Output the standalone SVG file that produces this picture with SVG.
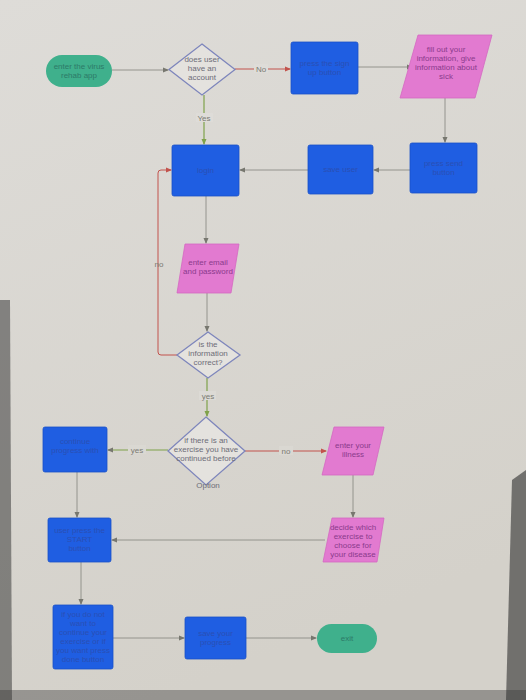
<svg xmlns="http://www.w3.org/2000/svg" width="526" height="700" viewBox="0 0 526 700">
<defs>
<linearGradient id="bg" x1="0" y1="0" x2="0.3" y2="1">
<stop offset="0" stop-color="#dedcd8"/>
<stop offset="1" stop-color="#d4d1ca"/>
</linearGradient>
<marker id="ag" markerWidth="6" markerHeight="6" refX="5" refY="3" orient="auto" markerUnits="userSpaceOnUse"><path d="M0,0.5 L6,3 L0,5.5 z" fill="#77776f"/></marker>
<marker id="ar" markerWidth="6" markerHeight="6" refX="5" refY="3" orient="auto" markerUnits="userSpaceOnUse"><path d="M0,0.5 L6,3 L0,5.5 z" fill="#c2524c"/></marker>
<marker id="an" markerWidth="6" markerHeight="6" refX="5" refY="3" orient="auto" markerUnits="userSpaceOnUse"><path d="M0,0.5 L6,3 L0,5.5 z" fill="#7fa24a"/></marker>
<style>
text{font-family:"Liberation Sans",Arial,sans-serif;font-size:8px;text-anchor:middle}
.blue{fill:#1f5ee2;stroke:#1a52c8;stroke-width:0.8}
.pink{fill:#e27ad0;stroke:#d468c2;stroke-width:0.8}
.term{fill:#3fb08c}
.dia{fill:#e4e2de;stroke:#7e86bc;stroke-width:1.3}
.tb{fill:#2a4fb4}
.tp{fill:#8a3a8c}
.tg{fill:#2d7a68}
.td{fill:#6d6d78}
.lbl{fill:#7a7a72}
.lg{fill:none;stroke:#8c8c86;stroke-width:0.9}
.lr{fill:none;stroke:#c2524c;stroke-width:1}
.ln{fill:none;stroke:#7fa24a;stroke-width:1.2}
</style>
</defs>
<rect width="526" height="700" fill="url(#bg)"/>
<path d="M0,300 L10,300 L12,700 L0,700 z" fill="#3a3a3a" opacity="0.55"/>
<path d="M512,480 L526,470 L526,700 L506,700 z" fill="#2e2e2e" opacity="0.6"/>
<rect x="0" y="690" width="526" height="10" fill="#3a3a3a" opacity="0.4"/>

<g id="connectors">
<line class="lg" x1="112" y1="70" x2="168" y2="70" marker-end="url(#ag)"/>
<line class="lr" x1="235" y1="69" x2="290" y2="69" marker-end="url(#ar)"/>
<line class="lg" x1="358" y1="67" x2="412" y2="67" marker-end="url(#ag)"/>
<line class="lg" x1="445" y1="98" x2="445" y2="142" marker-end="url(#ag)"/>
<line class="lg" x1="410" y1="170" x2="374" y2="170" marker-end="url(#ag)"/>
<line class="lg" x1="308" y1="170" x2="240" y2="170" marker-end="url(#ag)"/>
<line class="ln" x1="204" y1="95" x2="204" y2="144" marker-end="url(#an)"/>
<line class="lg" x1="206" y1="196" x2="206" y2="243" marker-end="url(#ag)"/>
<line class="lg" x1="207" y1="293" x2="207" y2="331" marker-end="url(#ag)"/>
<path class="lr" d="M177,355 L161,355 Q158,355 158,352 L158,173 Q158,170 161,170 L171,170" marker-end="url(#ar)"/>
<line class="ln" x1="207" y1="378" x2="207" y2="416" marker-end="url(#an)"/>
<line class="ln" x1="168" y1="450" x2="108" y2="450" marker-end="url(#ag)"/>
<line class="lr" x1="245" y1="451" x2="326" y2="451" marker-end="url(#ar)"/>
<line class="lg" x1="353" y1="475" x2="353" y2="517" marker-end="url(#ag)"/>
<line class="lg" x1="325" y1="540" x2="112" y2="540" marker-end="url(#ag)"/>
<line class="lg" x1="77" y1="472" x2="77" y2="517" marker-end="url(#ag)"/>
<line class="lg" x1="81" y1="562" x2="81" y2="604" marker-end="url(#ag)"/>
<line class="lg" x1="113" y1="638" x2="184" y2="638" marker-end="url(#ag)"/>
<line class="lg" x1="246" y1="638" x2="316" y2="638" marker-end="url(#ag)"/>
<rect x="254" y="64" width="14" height="9" fill="#dedcd8"/>
<text class="lbl" x="261" y="71.5">No</text>
<rect x="196" y="113" width="17" height="9" fill="#dedcd8"/>
<text class="lbl" x="204" y="120.5">Yes</text>
<text class="lbl" x="159" y="267">no</text>
<rect x="199" y="391" width="17" height="9" fill="#dcdad5"/>
<text class="lbl" x="208" y="398.5">yes</text>
<rect x="128" y="445" width="18" height="9" fill="#dad8d2"/>
<text class="lbl" x="137" y="452.5">yes</text>
<rect x="279" y="446" width="14" height="9" fill="#dad8d2"/>
<text class="lbl" x="286" y="453.5">no</text>
</g>

<g id="start">
<rect class="term" x="46" y="55" width="66" height="32" rx="16"/>
<text class="tg" x="79" y="69">enter the virus</text>
<text class="tg" x="79" y="78">rehab app</text>
</g>

<g id="has-account">
<polygon class="dia" points="202,44 235,69.5 202,95 169,69.5"/>
<text class="td" x="202" y="62">does user</text>
<text class="td" x="202" y="71">have an</text>
<text class="td" x="202" y="80">account</text>
</g>

<g id="signup">
<rect class="blue" x="291" y="42" width="67" height="52" rx="2"/>
<text class="tb" x="324.5" y="66">press the sign</text>
<text class="tb" x="324.5" y="75">up button</text>
</g>

<g id="fill-info">
<polygon class="pink" points="418,35 492,35 475,98 400,98"/>
<text class="tp" x="446" y="52">fill out your</text>
<text class="tp" x="446" y="61">information, give</text>
<text class="tp" x="446" y="70">information about</text>
<text class="tp" x="446" y="79">sick</text>
</g>

<g id="send">
<rect class="blue" x="410" y="143" width="67" height="50" rx="2"/>
<text class="tb" x="443.5" y="166">press send</text>
<text class="tb" x="443.5" y="175">button</text>
</g>

<g id="save-user">
<rect class="blue" x="308" y="145" width="65" height="49" rx="2"/>
<text class="tb" x="340.5" y="172">save user</text>
</g>

<g id="login">
<rect class="blue" x="172" y="145" width="67" height="51" rx="2"/>
<text class="tb" x="205.5" y="173">login</text>
</g>

<g id="email">
<polygon class="pink" points="185,244 239,244 231,293 177,293"/>
<text class="tp" x="208" y="265">enter email</text>
<text class="tp" x="208" y="274">and password</text>
</g>

<g id="correct">
<polygon class="dia" points="208,332 240,355 208,378 177,355"/>
<text class="td" x="208" y="347">is the</text>
<text class="td" x="208" y="356">information</text>
<text class="td" x="208" y="365">correct?</text>
</g>

<g id="continued">
<polygon class="dia" points="206,417 245,451 206,485 168,451"/>
<text class="td" x="206" y="443">if there is an</text>
<text class="td" x="206" y="452">exercise you have</text>
<text class="td" x="206" y="461">continued before</text>
<text class="td" x="208" y="488">Option</text>
</g>

<g id="continue-progress">
<rect class="blue" x="43" y="427" width="64" height="45" rx="2"/>
<text class="tb" x="75" y="444">continue</text>
<text class="tb" x="75" y="453">progress with</text>
</g>

<g id="illness">
<polygon class="pink" points="334,427 384,427 373,475 322,475"/>
<text class="tp" x="353" y="448">enter your</text>
<text class="tp" x="353" y="457">illness</text>
</g>

<g id="decide">
<polygon class="pink" points="332,518 384,518 377,562 323,562"/>
<text class="tp" x="353" y="530">decide which</text>
<text class="tp" x="353" y="539">exercise to</text>
<text class="tp" x="353" y="548">choose for</text>
<text class="tp" x="353" y="557">your disease</text>
</g>

<g id="start-button">
<rect class="blue" x="48" y="518" width="63" height="44" rx="2"/>
<text class="tb" x="79.5" y="533">user press the</text>
<text class="tb" x="79.5" y="542">START</text>
<text class="tb" x="79.5" y="551">button</text>
</g>

<g id="done">
<rect class="blue" x="53" y="605" width="60" height="64" rx="2"/>
<text class="tb" x="83" y="617">if you do not</text>
<text class="tb" x="83" y="626">want to</text>
<text class="tb" x="83" y="635">continue your</text>
<text class="tb" x="83" y="644">exercise or if</text>
<text class="tb" x="83" y="653">you want press</text>
<text class="tb" x="83" y="662">done button</text>
</g>

<g id="save-progress">
<rect class="blue" x="185" y="617" width="61" height="42" rx="2"/>
<text class="tb" x="215.5" y="636">save your</text>
<text class="tb" x="215.5" y="645">progress</text>
</g>

<g id="exit">
<rect class="term" x="317" y="624" width="60" height="29" rx="14.5"/>
<text class="tg" x="347" y="641">exit</text>
</g>
</svg>
